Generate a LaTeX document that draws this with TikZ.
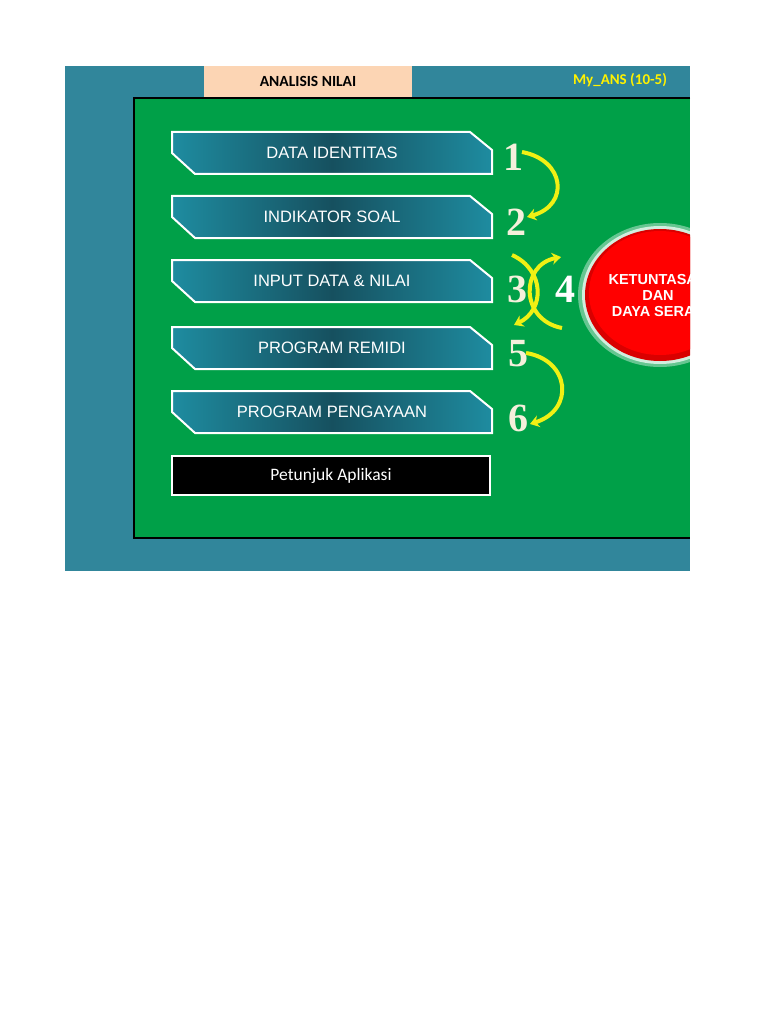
\documentclass[tikz,border=0pt]{standalone}
\usepackage{fontspec}
\setmainfont{Liberation Sans}
\newfontfamily\numfont{Liberation Serif}
\newfontfamily\calib{Carlito}
\usetikzlibrary{arrows.meta}
\definecolor{teal1}{RGB}{49,134,155}
\definecolor{peach}{RGB}{252,213,180}
\definecolor{grn}{RGB}{0,160,72}
\definecolor{btnL}{RGB}{30,140,160}
\definecolor{btnD}{RGB}{22,80,95}
\definecolor{yel}{RGB}{240,240,20}
\definecolor{cream}{RGB}{245,240,220}
\tikzset{
 btn/.style={draw=white,line width=2pt,left color=btnL,right color=btnL,middle color=btnD},
 btntext/.style={text=white,font=\fontsize{16.5}{18}\selectfont},
 num/.style={font=\numfont\bfseries\fontsize{40}{40}\selectfont,text=cream},
 arr/.style={draw=yel,line width=4pt,-{Stealth[length=9pt,width=12pt]}}
}
\begin{document}
\begin{tikzpicture}[x=1pt,y=-1pt]
\useasboundingbox (0,0) rectangle (768,1024);
\fill[white] (0,0) rectangle (768,1024);
\fill[teal1] (65,66) rectangle (690,571);
\node[fill=peach,minimum width=208pt,minimum height=31pt,inner sep=0,font=\calib\bfseries\fontsize{15.5}{17}\selectfont] (hdr) at (308,81.5) {ANALISIS NILAI};
\node[text=yellow,font=\calib\bfseries\fontsize{15}{17}\selectfont] (my) at (620,80) {My\_ANS (10-5)};
\fill[grn] (134,98) rectangle (690,538);
\draw[black,line width=1.5pt] (690,98) -- (134,98) -- (134,538) -- (690,538);
\foreach \y/\t/\n in {132/DATA IDENTITAS/b1,196/INDIKATOR SOAL/b2,260/INPUT DATA \& NILAI/b3,327/PROGRAM REMIDI/b4,391/PROGRAM PENGAYAAN/b5}{
 \path[btn] (172,\y) -- (470,\y) -- (492,\y+18) -- (492,\y+42) -- (195,\y+42) -- (172,\y+21) -- cycle;
 \node[btntext] (\n) at (332,\y+21) {\t};
}
\node[fill=black,draw=white,line width=2pt,minimum width=318pt,minimum height=39pt,inner sep=0,text=white,font=\calib\fontsize{17.5}{19}\selectfont] (pa) at (331,475.5) {Petunjuk Aplikasi};
\begin{scope}
\clip (134,98) rectangle (690,538);
\fill[white,opacity=0.4] (660,295) ellipse (82pt and 72pt);
\fill[white,opacity=0.7] (660,295) ellipse (78pt and 69pt);
\fill[red!85!black] (660,295) ellipse (75pt and 66pt);
\fill[red] (660,293) ellipse (71pt and 62pt);
\node[text=white,align=center,font=\bfseries\fontsize{14.5}{16}\selectfont] (kt) at (658,296) {KETUNTASAN\\DAN\\DAYA SERAP};
\end{scope}
\node[num] (n1) at (513,157) {1};
\node[num] (n2) at (516,222) {2};
\node[num] (n3) at (517,289) {3};
\node[num,text=white] (n4) at (565,289) {4};
\node[num] (n5) at (518,354) {5};
\node[num] (n6) at (518,418) {6};
\draw[arr] (522,152) .. controls (565,160) and (570,205) .. (527,217);
\draw[arr] (526,353) .. controls (570,360) and (575,410) .. (530,424);
\draw[arr] (512,255) .. controls (545,270) and (545,310) .. (514,325);
\draw[arr] (562,328) .. controls (520,320) and (520,265) .. (561,257);
\end{tikzpicture}
\end{document}
